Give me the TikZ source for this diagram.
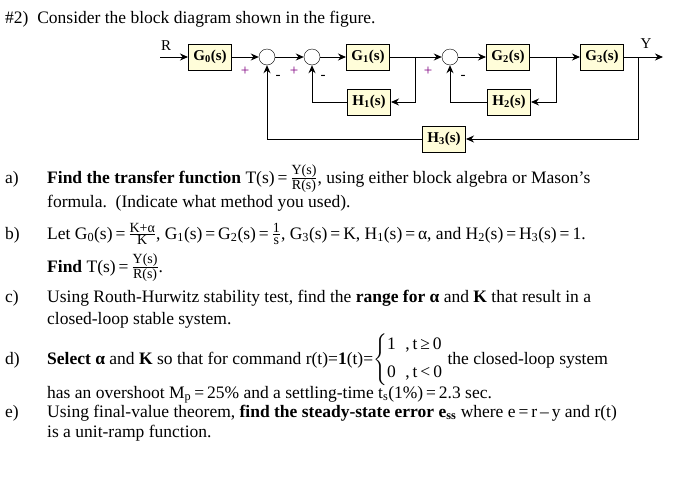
\documentclass[tikz,border=0pt]{standalone}
\usepackage{amsmath}
\usepackage{fontspec}
\setmainfont{Liberation Serif}
\usetikzlibrary{arrows.meta}
\newcommand{\tx}[1]{\text{#1}}
\newcommand{\fr}[2]{\ensuremath{\frac{\text{\fontsize{14}{14}\selectfont #1}}{\text{\fontsize{14}{14}\selectfont #2}}}}
\begin{document}
\begin{tikzpicture}[x=1pt,y=-1pt,
  blk/.style={draw,line width=1pt,fill=yellow!15,minimum width=43pt,minimum height=26pt,inner sep=1pt,font=\bfseries\fontsize{15}{16}\selectfont},
  sum/.style={draw,circle,minimum size=16pt,inner sep=0pt},
  sig/.style={->,>={Stealth[length=8pt,width=7pt]},line width=1pt},
  lab/.style={anchor=base west,inner sep=0pt,font=\fontsize{17.5}{20}\selectfont},
  sg/.style={inner sep=0pt,font=\fontsize{15}{15}\selectfont}]
\useasboundingbox (0,0) rectangle (690,485);
% diagram
\coordinate (in) at (160,57);
\node[blk] (g0) at (210,57) {G\textsubscript{0}(s)};
\node[sum] (s1) at (267,57) {};
\node[sum] (s2) at (312,57) {};
\node[blk] (g1) at (368,57) {G\textsubscript{1}(s)};
\node[sum] (s3) at (450,57) {};
\node[blk] (g2) at (508,57) {G\textsubscript{2}(s)};
\node[blk] (g3) at (602,57) {G\textsubscript{3}(s)};
\coordinate (out) at (663,57);
\node[blk] (h1) at (369,102) {H\textsubscript{1}(s)};
\node[blk] (h2) at (509,102) {H\textsubscript{2}(s)};
\node[blk] (h3) at (444,139) {H\textsubscript{3}(s)};
\coordinate (b1) at (415,57);
\coordinate (b2) at (556,57);
\coordinate (b3) at (638,57);
\draw[sig] (in) -- (g0);
\draw[sig] (g0) -- (s1);
\draw[sig] (s1) -- (s2);
\draw[sig] (s2) -- (g1);
\draw[sig] (g1) -- (s3);
\draw[sig] (s3) -- (g2);
\draw[sig] (g2) -- (g3);
\draw[sig] (g3) -- (out);
\draw[sig] (b1) |- (h1);
\draw[sig] (h1) -| (s2);
\draw[sig] (b2) |- (h2);
\draw[sig] (h2) -| (s3);
\draw[sig] (b3) |- (h3);
\draw[sig] (h3) -| (s1);
\node[sg,anchor=base] (r) at (166,50) {R};
\node[sg,anchor=base] (y) at (646,48) {Y};
\node[sg,text=violet] (p1) at (245,71) {+};
\node[sg] (m1) at (278,77) {-};
\node[sg,text=violet] (p2) at (294,71) {+};
\node[sg] (m2) at (323,77) {-};
\node[sg,text=violet] (p3) at (428,71) {+};
\node[sg] (m3) at (463,77) {-};
% text
\node[lab] (t0) at (5,23) {\#2)\enspace Consider the block diagram shown in the figure.};
\node[lab] (la) at (5,183) {a)};
\node[lab] (ta) at (47,183) {\textbf{Find the transfer function} T(s)\,=\,\fr{Y(s)}{R(s)}, using either block algebra or Mason’s};
\node[lab] (ta2) at (47,207) {formula.\enspace(Indicate what method you used).};
\node[lab] (lb) at (5,239) {b)};
\node[lab] (tb) at (47,239) {Let G\textsubscript{0}(s)\,=\,\fr{K+α}{K}, G\textsubscript{1}(s)\,=\,G\textsubscript{2}(s)\,=\,\fr{1}{s}, G\textsubscript{3}(s)\,=\,K, H\textsubscript{1}(s)\,=\,α, and H\textsubscript{2}(s)\,=\,H\textsubscript{3}(s)\,=\,1.};
\node[lab] (tb2) at (47,272) {\textbf{Find} T(s)\,=\,\fr{Y(s)}{R(s)}.};
\node[lab] (lc) at (5,302) {c)};
\node[lab] (tc) at (47,302) {Using Routh-Hurwitz stability test, find the \textbf{range for α} and \textbf{K} that result in a};
\node[lab] (tc2) at (47,324) {closed-loop stable system.};
\node[lab] (ld) at (5,364) {d)};
\node[lab] (td) at (47,364) {\textbf{Select α} and \textbf{K} so that for command r(t)=\textbf{1}(t)=$\left\{\begin{array}{@{}l@{\;\;}l@{}}\tx{1} & \tx{,\,t\,≥\,0}\\[8pt] \tx{0} & \tx{,\,t\,<\,0}\end{array}\right.$ the closed-loop system};
\node[lab] (td2) at (47,398) {has an overshoot M\textsubscript{p}\,=\,25\% and a settling-time t\textsubscript{s}(1\%)\,=\,2.3 sec.};
\node[lab] (le) at (5,417) {e)};
\node[lab] (te) at (47,417) {Using final-value theorem, \textbf{find the steady-state error e\textsubscript{ss}} where e\,=\,r\,–\,y and r(t)};
\node[lab] (te2) at (47,437) {is a unit-ramp function.};
\end{tikzpicture}
\end{document}
